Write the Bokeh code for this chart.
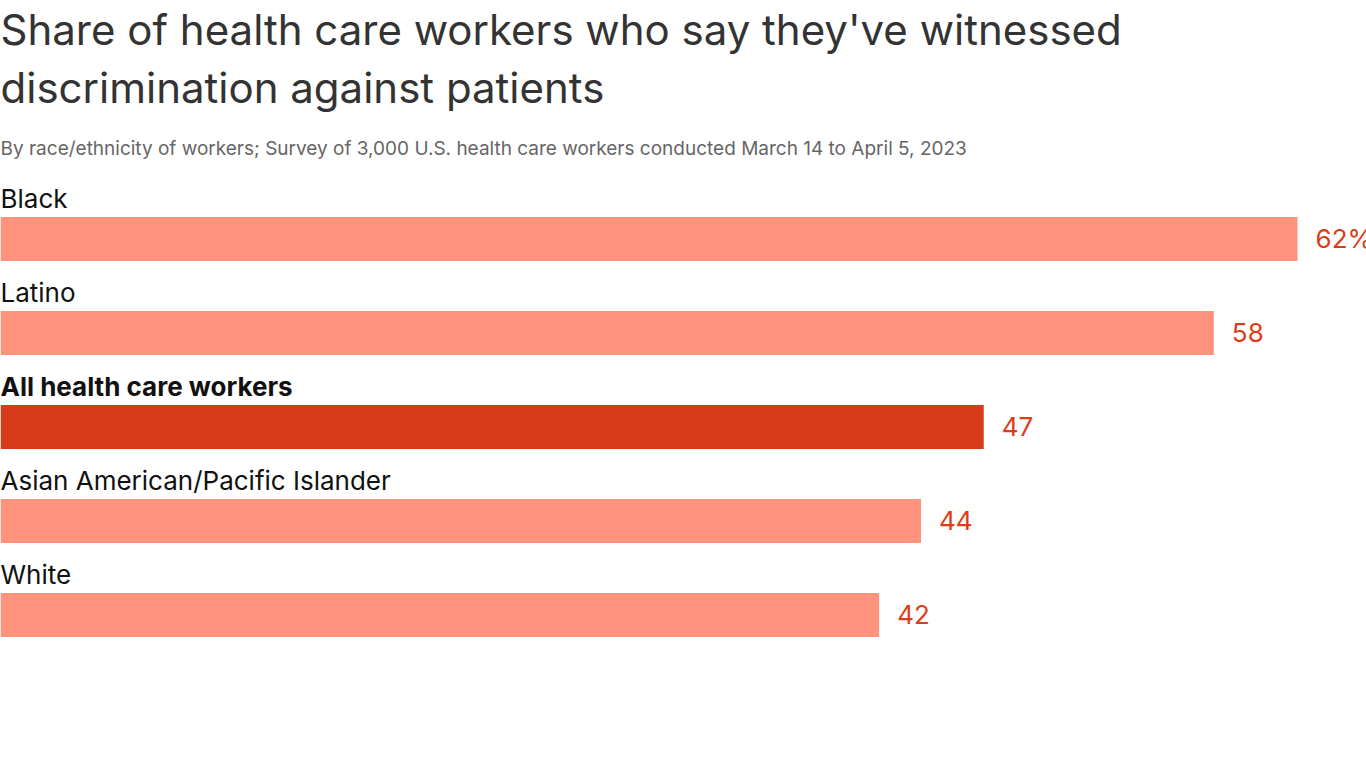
from bokeh.plotting import figure
from bokeh.models import Range1d, FactorRange, ColumnDataSource
from bokeh.layouts import column
from bokeh.core.properties import value
from bokeh.embed import file_html
from bokeh.resources import INLINE

# ---- data ----
categories = ["Black", "Latino", "All health care workers",
              "Asian American/Pacific Islander", "White"]
shares = [62, 58, 47, 44, 42]
value_labels = ["62%", "58", "47", "44", "42"]
highlight = [False, False, True, False, False]

title_lines = ["Share of health care workers who say they've witnessed",
               "discrimination against patients"]
subtitle = ("By race/ethnicity of workers; Survey of 3,000 U.S. health care "
            "workers conducted March 14 to April 5, 2023")

LIGHT = "#ff937d"
DARK = "#d83b18"
FONT = "Inter"

W = 1366
ROW = 94
PAD = 0.25            # row units of padding above/below the rows
PAD_PX = PAD * ROW    # 23.5 px
HEAD_H = 168
BOTTOM = 70
PX_PER_UNIT = 20.92

# ---- header figure (title + subtitle) ----
head = figure(width=W, height=HEAD_H, output_backend="svg", toolbar_location=None,
              x_range=Range1d(0, W), y_range=Range1d(HEAD_H, 0),
              min_border=0)
head.axis.visible = False
head.grid.visible = False
head.outline_line_color = None

head_src = ColumnDataSource(dict(txt=title_lines, y=[29, 87]))
head.text(x=0, y="y", text="txt", source=head_src,
          text_font=value(FONT), text_font_size="42px", text_color="#333333",
          text_baseline="alphabetic", text_align="left")
head.text(x=[0], y=[148], text=[subtitle],
          text_font=value(FONT), text_font_size="19px", text_color="#666666",
          text_baseline="alphabetic", text_align="left")

# ---- bar chart ----
colors = [DARK if h else LIGHT for h in highlight]
styles = ["bold" if h else "normal" for h in highlight]
src = ColumnDataSource(dict(cat=categories, share=shares, lab=value_labels,
                            color=colors, style=styles))

frame_h = int(round(ROW * (len(categories) + 2 * PAD)))
p = figure(width=W, height=frame_h + BOTTOM, output_backend="svg",
           toolbar_location=None,
           x_range=Range1d(0, W / PX_PER_UNIT),
           y_range=FactorRange(factors=list(reversed(categories)),
                               range_padding=PAD,
                               range_padding_units="absolute"),
           min_border_left=0, min_border_right=0, min_border_top=0,
           min_border_bottom=BOTTOM)
p.axis.visible = False
p.grid.visible = False
p.outline_line_color = None

p.hbar(y="cat", left=0, right="share", height=44 / ROW, color="color",
       line_color=None, source=src)

p.text(x=0, y="cat", text="cat", source=src, y_offset=-41,
       text_baseline="alphabetic", text_align="left",
       text_font=value(FONT), text_font_size="26px",
       text_font_style="style", text_color="#111111")

p.text(x="share", y="cat", text="lab", source=src, x_offset=18, y_offset=-1,
       text_baseline="middle", text_align="left",
       text_font=value(FONT), text_font_size="26px", text_color="#dc3d17")

layout = column(head, p, spacing=0)
open("out.html", "w").write(file_html(layout, INLINE))
